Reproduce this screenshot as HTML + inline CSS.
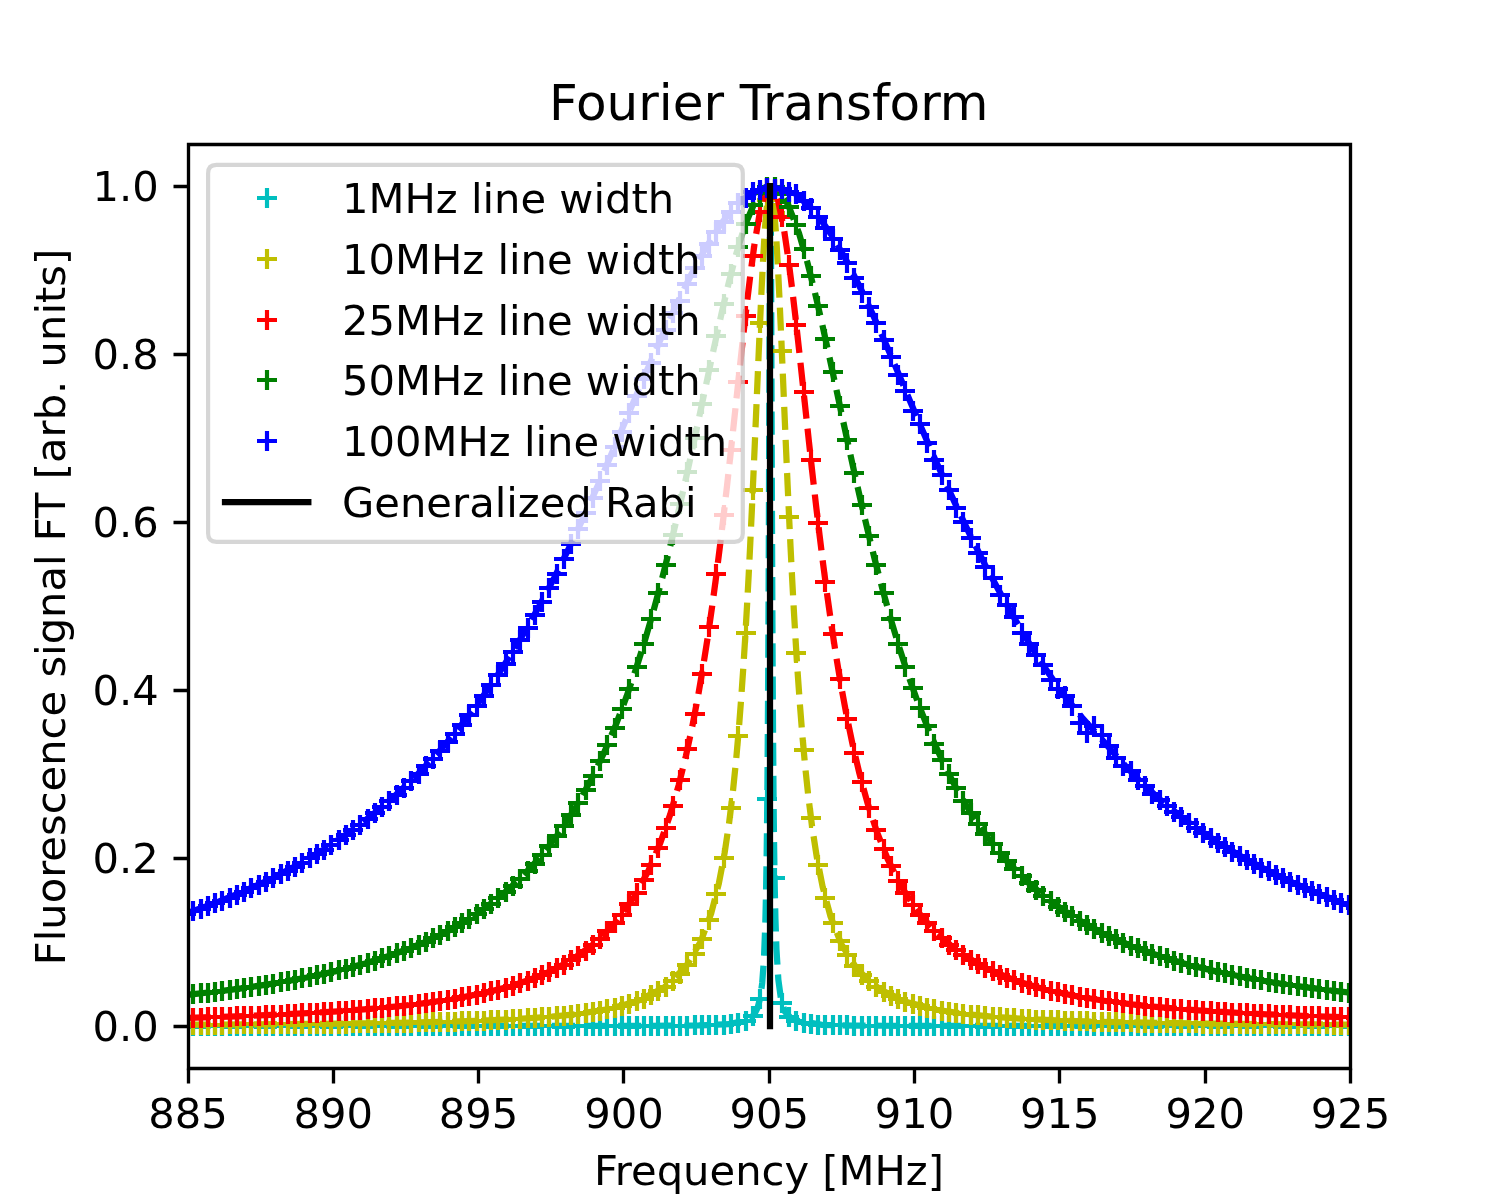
<!DOCTYPE html>
<html><head><meta charset="utf-8"><title>Fourier Transform</title>
<style>html,body{margin:0;padding:0;background:#fff;overflow:hidden}svg{display:block}</style>
</head><body>
<svg width="1500" height="1200" viewBox="0 0 1500 1200">
<defs><clipPath id="ax"><rect x="188" y="144" width="1162" height="924"/></clipPath></defs>
<rect x="0" y="0" width="1500" height="1200" fill="#ffffff"/>
<path d="M188.5 1068.5V1083.5M333.5 1068.5V1083.5M478.5 1068.5V1083.5M623.5 1068.5V1083.5M769.5 1068.5V1083.5M914.5 1068.5V1083.5M1059.5 1068.5V1083.5M1205.5 1068.5V1083.5M1350.5 1068.5V1083.5M173.5 1026.5H188.5M173.5 858.5H188.5M173.5 690.5H188.5M173.5 522.5H188.5M173.5 354.5H188.5M173.5 186.5H188.5" stroke="#000" stroke-width="3.3333" fill="none"/>
<text x="188" y="1127.83" style="font-size:41.6667px;font-family:'DejaVu Sans',sans-serif" text-anchor="middle">885</text>
<text x="333.31" y="1127.83" style="font-size:41.6667px;font-family:'DejaVu Sans',sans-serif" text-anchor="middle">890</text>
<text x="478.62" y="1127.83" style="font-size:41.6667px;font-family:'DejaVu Sans',sans-serif" text-anchor="middle">895</text>
<text x="623.94" y="1127.83" style="font-size:41.6667px;font-family:'DejaVu Sans',sans-serif" text-anchor="middle">900</text>
<text x="769.25" y="1127.83" style="font-size:41.6667px;font-family:'DejaVu Sans',sans-serif" text-anchor="middle">905</text>
<text x="914.56" y="1127.83" style="font-size:41.6667px;font-family:'DejaVu Sans',sans-serif" text-anchor="middle">910</text>
<text x="1059.88" y="1127.83" style="font-size:41.6667px;font-family:'DejaVu Sans',sans-serif" text-anchor="middle">915</text>
<text x="1205.19" y="1127.83" style="font-size:41.6667px;font-family:'DejaVu Sans',sans-serif" text-anchor="middle">920</text>
<text x="1350.5" y="1127.83" style="font-size:41.6667px;font-family:'DejaVu Sans',sans-serif" text-anchor="middle">925</text>
<text x="158.83" y="1040.83" style="font-size:41.6667px;font-family:'DejaVu Sans',sans-serif" text-anchor="end">0.0</text>
<text x="158.83" y="872.83" style="font-size:41.6667px;font-family:'DejaVu Sans',sans-serif" text-anchor="end">0.2</text>
<text x="158.83" y="704.83" style="font-size:41.6667px;font-family:'DejaVu Sans',sans-serif" text-anchor="end">0.4</text>
<text x="158.83" y="536.83" style="font-size:41.6667px;font-family:'DejaVu Sans',sans-serif" text-anchor="end">0.6</text>
<text x="158.83" y="368.83" style="font-size:41.6667px;font-family:'DejaVu Sans',sans-serif" text-anchor="end">0.8</text>
<text x="158.83" y="200.83" style="font-size:41.6667px;font-family:'DejaVu Sans',sans-serif" text-anchor="end">1.0</text>
<g clip-path="url(#ax)">
<path d="M176 1026h20M186 1016v20M183 1026h20M193 1016v20M191 1026h20M201 1016v20M198 1026h20M208 1016v20M205 1026h20M215 1016v20M212 1026h20M222 1016v20M220 1026h20M230 1016v20M227 1026h20M237 1016v20M234 1026h20M244 1016v20M241 1026h20M251 1016v20M249 1026h20M259 1016v20M256 1026h20M266 1016v20M263 1026h20M273 1016v20M271 1026h20M281 1016v20M278 1026h20M288 1016v20M285 1026h20M295 1016v20M292 1026h20M302 1016v20M300 1026h20M310 1016v20M307 1026h20M317 1016v20M314 1026h20M324 1016v20M321 1026h20M331 1016v20M329 1026h20M339 1016v20M336 1026h20M346 1016v20M343 1026h20M353 1016v20M350 1026h20M360 1016v20M358 1026h20M368 1016v20M365 1026h20M375 1016v20M372 1026h20M382 1016v20M379 1026h20M389 1016v20M387 1026h20M397 1016v20M394 1026h20M404 1016v20M401 1026h20M411 1016v20M409 1026h20M419 1016v20M416 1026h20M426 1016v20M423 1026h20M433 1016v20M430 1026h20M440 1016v20M438 1026h20M448 1016v20M445 1026h20M455 1016v20M452 1026h20M462 1016v20M459 1026h20M469 1016v20M467 1026h20M477 1016v20M474 1026h20M484 1016v20M481 1026h20M491 1016v20M488 1026h20M498 1016v20M496 1026h20M506 1016v20M503 1026h20M513 1016v20M510 1026h20M520 1016v20M518 1026h20M528 1016v20M525 1026h20M535 1016v20M532 1026h20M542 1016v20M539 1026h20M549 1016v20M547 1026h20M557 1016v20M554 1026h20M564 1016v20M561 1026h20M571 1016v20M568 1026h20M578 1016v20M576 1026h20M586 1016v20M583 1026h20M593 1016v20M590 1026h20M600 1016v20M597 1026h20M607 1016v20M605 1026h20M615 1016v20M612 1026h20M622 1016v20M619 1026h20M629 1016v20M627 1026h20M637 1016v20M634 1026h20M644 1016v20M641 1026h20M651 1016v20M648 1026h20M658 1016v20M656 1026h20M666 1016v20M663 1026h20M673 1016v20M670 1026h20M680 1016v20M677 1026h20M687 1016v20M685 1025h20M695 1015v20M692 1025h20M702 1015v20M699 1025h20M709 1015v20M706 1025h20M716 1015v20M714 1025h20M724 1015v20M721 1024h20M731 1014v20M728 1023h20M738 1013v20M736 1021h20M746 1011v20M743 1016h20M753 1006v20M750 999h20M760 989v20M757 799h20M767 789v20M765 878h20M775 868v20M772 1003h20M782 993v20M779 1017h20M789 1007v20M786 1021h20M796 1011v20M794 1023h20M804 1013v20M801 1024h20M811 1014v20M808 1025h20M818 1015v20M815 1025h20M825 1015v20M823 1025h20M833 1015v20M830 1025h20M840 1015v20M837 1025h20M847 1015v20M844 1026h20M854 1016v20M852 1026h20M862 1016v20M859 1026h20M869 1016v20M866 1026h20M876 1016v20M874 1026h20M884 1016v20M881 1026h20M891 1016v20M888 1026h20M898 1016v20M895 1026h20M905 1016v20M903 1026h20M913 1016v20M910 1026h20M920 1016v20M917 1026h20M927 1016v20M924 1026h20M934 1016v20M932 1026h20M942 1016v20M939 1026h20M949 1016v20M946 1026h20M956 1016v20M953 1026h20M963 1016v20M961 1026h20M971 1016v20M968 1026h20M978 1016v20M975 1026h20M985 1016v20M983 1026h20M993 1016v20M990 1026h20M1000 1016v20M997 1026h20M1007 1016v20M1004 1026h20M1014 1016v20M1012 1026h20M1022 1016v20M1019 1026h20M1029 1016v20M1026 1026h20M1036 1016v20M1033 1026h20M1043 1016v20M1041 1026h20M1051 1016v20M1048 1026h20M1058 1016v20M1055 1026h20M1065 1016v20M1062 1026h20M1072 1016v20M1070 1026h20M1080 1016v20M1077 1026h20M1087 1016v20M1084 1026h20M1094 1016v20M1092 1026h20M1102 1016v20M1099 1026h20M1109 1016v20M1106 1026h20M1116 1016v20M1113 1026h20M1123 1016v20M1121 1026h20M1131 1016v20M1128 1026h20M1138 1016v20M1135 1026h20M1145 1016v20M1142 1026h20M1152 1016v20M1150 1026h20M1160 1016v20M1157 1026h20M1167 1016v20M1164 1026h20M1174 1016v20M1171 1026h20M1181 1016v20M1179 1026h20M1189 1016v20M1186 1026h20M1196 1016v20M1193 1026h20M1203 1016v20M1201 1026h20M1211 1016v20M1208 1026h20M1218 1016v20M1215 1026h20M1225 1016v20M1222 1026h20M1232 1016v20M1230 1026h20M1240 1016v20M1237 1026h20M1247 1016v20M1244 1026h20M1254 1016v20M1251 1026h20M1261 1016v20M1259 1026h20M1269 1016v20M1266 1026h20M1276 1016v20M1273 1026h20M1283 1016v20M1280 1026h20M1290 1016v20M1288 1026h20M1298 1016v20M1295 1026h20M1305 1016v20M1302 1026h20M1312 1016v20M1309 1026h20M1319 1016v20M1317 1026h20M1327 1016v20M1324 1026h20M1334 1016v20M1331 1026h20M1341 1016v20M1339 1026h20M1349 1016v20M1346 1026h20M1356 1016v20" stroke="#00bfbf" stroke-width="4.1667" fill="none"/>
<path d="M187.50 1025.99L217.58 1025.99L247.66 1025.99L277.74 1025.99L307.82 1025.99L337.90 1025.98L367.98 1025.98L398.06 1025.98L428.14 1025.97L458.22 1025.97L488.30 1025.96L518.38 1025.95L548.46 1025.94L578.54 1025.92L608.62 1025.88L638.70 1025.82L668.77 1025.71L698.85 1025.40L728.93 1024.23L748.70 1019.58L754.22 1014.52L757.56 1007.93L760.18 997.89L762.21 983.06L763.95 958.93L765.26 925.31L765.99 895.25L766.57 861.26L767.01 827.25L767.44 783.10L767.73 746.38L768.02 702.46L768.31 650.13L768.60 588.42L768.75 553.95L768.90 517.18L769.04 478.37L769.19 437.95L769.33 396.60L769.48 355.26L769.62 315.14L769.77 277.73L769.91 244.67L770.20 198.28L770.35 187.75L770.49 186.78L770.78 213.10L771.08 270.67L771.22 307.34L771.37 347.03L771.51 388.23L771.66 429.66L771.80 470.32L771.95 509.50L772.09 546.70L772.24 581.64L772.38 614.19L772.53 644.31L772.82 697.55L773.11 742.26L773.40 779.65L773.69 810.92L774.13 848.63L774.71 886.11L775.43 919.02L776.45 949.10L778.34 979.68L781.10 999.90L784.88 1011.56L792.44 1019.71L822.08 1024.85L852.16 1025.54L882.24 1025.75L912.32 1025.85L942.40 1025.90L972.48 1025.92L1002.56 1025.94L1032.64 1025.95L1062.72 1025.96L1092.80 1025.97L1122.88 1025.97L1152.96 1025.98L1183.04 1025.98L1213.12 1025.98L1243.20 1025.99L1273.28 1025.99L1303.35 1025.99L1333.43 1025.99L1350.00 1025.99" stroke="#00bfbf" stroke-width="6.25" fill="none" stroke-dasharray="23.125 10" stroke-linejoin="round"/>
<path d="M176 1025h20M186 1015v20M183 1025h20M193 1015v20M191 1025h20M201 1015v20M198 1025h20M208 1015v20M205 1025h20M215 1015v20M212 1025h20M222 1015v20M220 1024h20M230 1014v20M227 1024h20M237 1014v20M234 1024h20M244 1014v20M241 1024h20M251 1014v20M249 1024h20M259 1014v20M256 1024h20M266 1014v20M263 1024h20M273 1014v20M271 1024h20M281 1014v20M278 1024h20M288 1014v20M285 1024h20M295 1014v20M292 1024h20M302 1014v20M300 1024h20M310 1014v20M307 1024h20M317 1014v20M314 1024h20M324 1014v20M321 1024h20M331 1014v20M329 1024h20M339 1014v20M336 1024h20M346 1014v20M343 1023h20M353 1013v20M350 1023h20M360 1013v20M358 1023h20M368 1013v20M365 1023h20M375 1013v20M372 1023h20M382 1013v20M379 1023h20M389 1013v20M387 1023h20M397 1013v20M394 1023h20M404 1013v20M401 1023h20M411 1013v20M409 1022h20M419 1012v20M416 1022h20M426 1012v20M423 1022h20M433 1012v20M430 1022h20M440 1012v20M438 1022h20M448 1012v20M445 1022h20M455 1012v20M452 1021h20M462 1011v20M459 1021h20M469 1011v20M467 1021h20M477 1011v20M474 1021h20M484 1011v20M481 1020h20M491 1010v20M488 1020h20M498 1010v20M496 1020h20M506 1010v20M503 1019h20M513 1009v20M510 1019h20M520 1009v20M518 1018h20M528 1008v20M525 1018h20M535 1008v20M532 1017h20M542 1007v20M539 1017h20M549 1007v20M547 1016h20M557 1006v20M554 1016h20M564 1006v20M561 1015h20M571 1005v20M568 1014h20M578 1004v20M576 1013h20M586 1003v20M583 1012h20M593 1002v20M590 1011h20M600 1001v20M597 1009h20M607 999v20M605 1008h20M615 998v20M612 1006h20M622 996v20M619 1004h20M629 994v20M627 1001h20M637 991v20M634 999h20M644 989v20M641 995h20M651 985v20M648 991h20M658 981v20M656 987h20M666 977v20M663 981h20M673 971v20M670 974h20M680 964v20M677 965h20M687 955v20M685 954h20M695 944v20M692 939h20M702 929v20M699 920h20M709 910v20M706 894h20M716 884v20M714 858h20M724 848v20M721 808h20M731 798v20M728 736h20M738 726v20M736 633h20M746 623v20M743 490h20M753 480v20M750 323h20M760 313v20M757 200h20M767 190v20M765 213h20M775 203v20M772 351h20M782 341v20M779 517h20M789 507v20M786 653h20M796 643v20M794 750h20M804 740v20M801 818h20M811 808v20M808 865h20M818 855v20M815 898h20M825 888v20M823 923h20M833 913v20M830 941h20M840 931v20M837 955h20M847 945v20M844 966h20M854 956v20M852 975h20M862 965v20M859 981h20M869 971v20M866 987h20M876 977v20M874 992h20M884 982v20M881 996h20M891 986v20M888 999h20M898 989v20M895 1002h20M905 992v20M903 1004h20M913 994v20M910 1006h20M920 996v20M917 1008h20M927 998v20M924 1009h20M934 999v20M932 1011h20M942 1001v20M939 1012h20M949 1002v20M946 1013h20M956 1003v20M953 1014h20M963 1004v20M961 1015h20M971 1005v20M968 1015h20M978 1005v20M975 1016h20M985 1006v20M983 1017h20M993 1007v20M990 1017h20M1000 1007v20M997 1018h20M1007 1008v20M1004 1018h20M1014 1008v20M1012 1019h20M1022 1009v20M1019 1019h20M1029 1009v20M1026 1020h20M1036 1010v20M1033 1020h20M1043 1010v20M1041 1020h20M1051 1010v20M1048 1020h20M1058 1010v20M1055 1021h20M1065 1011v20M1062 1021h20M1072 1011v20M1070 1021h20M1080 1011v20M1077 1021h20M1087 1011v20M1084 1022h20M1094 1012v20M1092 1022h20M1102 1012v20M1099 1022h20M1109 1012v20M1106 1022h20M1116 1012v20M1113 1022h20M1123 1012v20M1121 1022h20M1131 1012v20M1128 1023h20M1138 1013v20M1135 1023h20M1145 1013v20M1142 1023h20M1152 1013v20M1150 1023h20M1160 1013v20M1157 1023h20M1167 1013v20M1164 1023h20M1174 1013v20M1171 1023h20M1181 1013v20M1179 1023h20M1189 1013v20M1186 1023h20M1196 1013v20M1193 1024h20M1203 1014v20M1201 1024h20M1211 1014v20M1208 1024h20M1218 1014v20M1215 1024h20M1225 1014v20M1222 1024h20M1232 1014v20M1230 1024h20M1240 1014v20M1237 1024h20M1247 1014v20M1244 1024h20M1254 1014v20M1251 1024h20M1261 1014v20M1259 1024h20M1269 1014v20M1266 1024h20M1276 1014v20M1273 1024h20M1283 1014v20M1280 1024h20M1290 1014v20M1288 1024h20M1298 1014v20M1295 1024h20M1305 1014v20M1302 1024h20M1312 1014v20M1309 1024h20M1319 1014v20M1317 1024h20M1327 1014v20M1324 1025h20M1334 1015v20M1331 1025h20M1341 1015v20M1339 1025h20M1349 1015v20M1346 1025h20M1356 1015v20" stroke="#bfbf00" stroke-width="4.1667" fill="none"/>
<path d="M187.50 1024.70L217.58 1024.55L247.66 1024.38L277.74 1024.17L307.82 1023.92L337.90 1023.62L367.98 1023.25L398.06 1022.78L428.14 1022.19L458.22 1021.42L488.30 1020.38L518.38 1018.97L548.31 1016.95L578.25 1013.93L607.89 1009.20L636.95 1001.28L663.83 987.82L685.63 967.12L700.89 941.24L711.35 912.84L718.91 883.15L724.58 853.24L729.08 823.01L732.86 791.94L736.05 760.63L738.82 729.19L741.14 699.10L743.32 667.58L745.21 637.46L746.95 607.26L748.70 574.70L750.30 542.83L751.75 512.26L753.20 480.36L754.65 447.35L755.96 416.99L757.27 386.36L758.58 355.89L760.03 322.81L761.48 291.35L763.08 259.66L764.97 227.82L767.59 197.27L769.04 188.46L769.77 186.44L770.20 186.02L770.49 186.06L770.93 186.61L771.80 189.46L773.69 203.39L776.02 233.64L777.76 264.04L779.36 296.22L780.81 327.97L782.26 361.18L783.57 391.68L784.88 422.25L786.19 452.48L787.64 485.29L789.09 516.95L790.55 547.24L792.15 578.79L793.89 611.00L795.78 643.24L797.81 674.96L799.99 705.65L802.46 736.66L805.22 767.03L808.42 797.29L812.20 827.34L816.85 857.46L822.66 886.92L830.51 916.35L841.41 944.33L857.54 969.87L880.20 989.70L907.52 1002.32L936.73 1009.73L966.52 1014.22L996.45 1017.09L1026.53 1019.03L1056.61 1020.40L1086.69 1021.40L1116.77 1022.16L1146.85 1022.74L1176.93 1023.20L1207.01 1023.57L1237.09 1023.87L1267.17 1024.11L1297.25 1024.32L1327.33 1024.49L1350.00 1024.61" stroke="#bfbf00" stroke-width="6.25" fill="none" stroke-dasharray="23.125 10" stroke-linejoin="round"/>
<path d="M176 1018h20M186 1008v20M183 1018h20M193 1008v20M191 1018h20M201 1008v20M198 1017h20M208 1007v20M205 1017h20M215 1007v20M212 1017h20M222 1007v20M220 1017h20M230 1007v20M227 1016h20M237 1006v20M234 1016h20M244 1006v20M241 1016h20M251 1006v20M249 1016h20M259 1006v20M256 1015h20M266 1005v20M263 1015h20M273 1005v20M271 1015h20M281 1005v20M278 1014h20M288 1004v20M285 1014h20M295 1004v20M292 1013h20M302 1003v20M300 1013h20M310 1003v20M307 1013h20M317 1003v20M314 1012h20M324 1002v20M321 1012h20M331 1002v20M329 1011h20M339 1001v20M336 1011h20M346 1001v20M343 1010h20M353 1000v20M350 1010h20M360 1000v20M358 1009h20M368 999v20M365 1008h20M375 998v20M372 1008h20M382 998v20M379 1007h20M389 997v20M387 1006h20M397 996v20M394 1006h20M404 996v20M401 1005h20M411 995v20M409 1004h20M419 994v20M416 1003h20M426 993v20M423 1002h20M433 992v20M430 1001h20M440 991v20M438 1000h20M448 990v20M445 999h20M455 989v20M452 997h20M462 987v20M459 996h20M469 986v20M467 995h20M477 985v20M474 993h20M484 983v20M481 991h20M491 981v20M488 990h20M498 980v20M496 988h20M506 978v20M503 986h20M513 976v20M510 983h20M520 973v20M518 981h20M528 971v20M525 978h20M535 968v20M532 975h20M542 965v20M539 972h20M549 962v20M547 968h20M557 958v20M554 965h20M564 955v20M561 960h20M571 950v20M568 956h20M578 946v20M576 951h20M586 941v20M583 945h20M593 935v20M590 939h20M600 929v20M597 931h20M607 921v20M605 923h20M615 913v20M612 915h20M622 905v20M619 904h20M629 894v20M627 893h20M637 883v20M634 880h20M644 870v20M641 865h20M651 855v20M648 848h20M658 838v20M656 828h20M666 818v20M663 806h20M673 796v20M670 780h20M680 770v20M677 749h20M687 739v20M685 714h20M695 704v20M692 674h20M702 664v20M699 627h20M709 617v20M706 574h20M716 564v20M714 515h20M724 505v20M721 450h20M731 440v20M728 382h20M738 372v20M736 316h20M746 306v20M743 256h20M753 246v20M750 212h20M760 202v20M757 188h20M767 178v20M765 190h20M775 180v20M772 217h20M782 207v20M779 265h20M789 255v20M786 325h20M796 315v20M794 392h20M804 382v20M801 460h20M811 450v20M808 523h20M818 513v20M815 582h20M825 572v20M823 634h20M833 624v20M830 679h20M840 669v20M837 719h20M847 709v20M844 753h20M854 743v20M852 782h20M862 772v20M859 808h20M869 798v20M866 830h20M876 820v20M874 849h20M884 839v20M881 866h20M891 856v20M888 881h20M898 871v20M895 893h20M905 883v20M903 905h20M913 895v20M910 915h20M920 905v20M917 923h20M927 913v20M924 931h20M934 921v20M932 938h20M942 928v20M939 945h20M949 935v20M946 950h20M956 940v20M953 955h20M963 945v20M961 960h20M971 950v20M968 964h20M978 954v20M975 968h20M985 958v20M983 971h20M993 961v20M990 975h20M1000 965v20M997 978h20M1007 968v20M1004 980h20M1014 970v20M1012 983h20M1022 973v20M1019 985h20M1029 975v20M1026 987h20M1036 977v20M1033 989h20M1043 979v20M1041 991h20M1051 981v20M1048 992h20M1058 982v20M1055 994h20M1065 984v20M1062 995h20M1072 985v20M1070 997h20M1080 987v20M1077 998h20M1087 988v20M1084 999h20M1094 989v20M1092 1000h20M1102 990v20M1099 1001h20M1109 991v20M1106 1002h20M1116 992v20M1113 1003h20M1123 993v20M1121 1004h20M1131 994v20M1128 1005h20M1138 995v20M1135 1006h20M1145 996v20M1142 1007h20M1152 997v20M1150 1007h20M1160 997v20M1157 1008h20M1167 998v20M1164 1009h20M1174 999v20M1171 1009h20M1181 999v20M1179 1010h20M1189 1000v20M1186 1010h20M1196 1000v20M1193 1011h20M1203 1001v20M1201 1011h20M1211 1001v20M1208 1012h20M1218 1002v20M1215 1012h20M1225 1002v20M1222 1013h20M1232 1003v20M1230 1013h20M1240 1003v20M1237 1013h20M1247 1003v20M1244 1014h20M1254 1004v20M1251 1014h20M1261 1004v20M1259 1014h20M1269 1004v20M1266 1015h20M1276 1005v20M1273 1015h20M1283 1005v20M1280 1015h20M1290 1005v20M1288 1016h20M1298 1006v20M1295 1016h20M1305 1006v20M1302 1016h20M1312 1006v20M1309 1016h20M1319 1006v20M1317 1017h20M1327 1007v20M1324 1017h20M1334 1007v20M1331 1017h20M1341 1007v20M1339 1017h20M1349 1007v20M1346 1018h20M1356 1008v20" stroke="#ff0000" stroke-width="4.1667" fill="none"/>
<path d="M187.50 1017.92L217.58 1017.02L247.66 1015.95L277.74 1014.69L307.82 1013.17L337.90 1011.34L367.83 1009.10L397.77 1006.31L427.70 1002.78L457.49 998.26L486.99 992.39L516.05 984.61L544.24 974.25L570.98 960.52L595.39 942.82L616.46 921.42L634.05 897.01L648.43 870.65L660.35 842.83L670.23 814.38L678.66 785.28L685.92 755.90L692.32 726.22L697.98 696.52L703.07 666.88L707.72 637.14L712.08 606.86L716.15 576.48L719.93 546.46L723.56 516.05L727.05 485.56L730.39 455.34L733.73 424.42L736.93 394.48L740.12 364.58L743.47 333.84L746.95 302.97L750.59 272.95L754.65 243.03L759.74 213.08L765.55 191.71L768.31 187.05L770.06 186.02L771.51 186.32L773.69 188.72L778.05 200.34L784.15 230.49L788.51 260.19L792.29 290.07L795.78 320.10L799.12 350.32L802.46 381.32L805.66 411.20L809.00 442.22L812.34 472.65L815.83 503.48L819.46 534.33L823.24 564.86L827.17 594.76L831.38 624.76L835.88 654.43L840.83 684.21L846.35 714.27L852.45 743.86L859.43 773.51L867.42 802.73L876.72 831.35L887.76 859.26L901.13 886.15L917.55 911.53L937.31 934.16L960.56 953.35L986.57 968.59L1014.33 980.18L1043.10 988.89L1072.45 995.46L1102.10 1000.48L1131.89 1004.38L1161.82 1007.47L1191.75 1009.93L1221.69 1011.94L1251.77 1013.60L1281.85 1014.98L1311.93 1016.15L1342.01 1017.13L1350.00 1017.37" stroke="#ff0000" stroke-width="6.25" fill="none" stroke-dasharray="23.125 10" stroke-linejoin="round"/>
<path d="M176 995h20M186 985v20M183 994h20M193 984v20M191 993h20M201 983v20M198 993h20M208 983v20M205 992h20M215 982v20M212 991h20M222 981v20M220 990h20M230 980v20M227 989h20M237 979v20M234 988h20M244 978v20M241 987h20M251 977v20M249 986h20M259 976v20M256 985h20M266 975v20M263 984h20M273 974v20M271 982h20M281 972v20M278 981h20M288 971v20M285 980h20M295 970v20M292 978h20M302 968v20M300 977h20M310 967v20M307 975h20M317 965v20M314 974h20M324 964v20M321 972h20M331 962v20M329 970h20M339 960v20M336 969h20M346 959v20M343 967h20M353 957v20M350 965h20M360 955v20M358 963h20M368 953v20M365 961h20M375 951v20M372 958h20M382 948v20M379 956h20M389 946v20M387 953h20M397 943v20M394 951h20M404 941v20M401 948h20M411 938v20M409 945h20M419 935v20M416 942h20M426 932v20M423 938h20M433 928v20M430 935h20M440 925v20M438 931h20M448 921v20M445 927h20M455 917v20M452 923h20M462 913v20M459 919h20M469 909v20M467 914h20M477 904v20M474 909h20M484 899v20M481 904h20M491 894v20M488 898h20M498 888v20M496 892h20M506 882v20M503 886h20M513 876v20M510 879h20M520 869v20M518 871h20M528 861v20M525 864h20M535 854v20M532 855h20M542 845v20M539 846h20M549 836v20M547 836h20M557 826v20M554 826h20M564 816v20M561 815h20M571 805v20M568 803h20M578 793v20M576 790h20M586 780v20M583 776h20M593 766v20M590 761h20M600 751v20M597 745h20M607 735v20M605 728h20M615 718v20M612 709h20M622 699v20M619 689h20M629 679v20M627 667h20M637 657v20M634 644h20M644 634v20M641 619h20M651 609v20M648 593h20M658 583v20M656 565h20M666 555v20M663 535h20M673 525v20M670 504h20M680 494v20M677 472h20M687 462v20M685 438h20M695 428v20M692 404h20M702 394v20M699 370h20M709 360v20M706 336h20M716 326v20M714 304h20M724 294v20M721 274h20M731 264v20M728 247h20M738 237v20M736 224h20M746 214v20M743 205h20M753 195v20M750 193h20M760 183v20M757 187h20M767 177v20M765 187h20M775 177v20M772 194h20M782 184v20M779 207h20M789 197v20M786 225h20M796 215v20M794 249h20M804 239v20M801 276h20M811 266v20M808 306h20M818 296v20M815 339h20M825 329v20M823 372h20M833 362v20M830 406h20M840 396v20M837 440h20M847 430v20M844 473h20M854 463v20M852 505h20M862 495v20M859 536h20M869 526v20M866 565h20M876 555v20M874 593h20M884 583v20M881 619h20M891 609v20M888 644h20M898 634v20M895 667h20M905 657v20M903 688h20M913 678v20M910 708h20M920 698v20M917 726h20M927 716v20M924 744h20M934 734v20M932 760h20M942 750v20M939 774h20M949 764v20M946 788h20M956 778v20M953 801h20M963 791v20M961 813h20M971 803v20M968 824h20M978 814v20M975 834h20M985 824v20M983 844h20M993 834v20M990 853h20M1000 843v20M997 861h20M1007 851v20M1004 869h20M1014 859v20M1012 876h20M1022 866v20M1019 883h20M1029 873v20M1026 890h20M1036 880v20M1033 896h20M1043 886v20M1041 901h20M1051 891v20M1048 907h20M1058 897v20M1055 912h20M1065 902v20M1062 916h20M1072 906v20M1070 921h20M1080 911v20M1077 925h20M1087 915v20M1084 929h20M1094 919v20M1092 933h20M1102 923v20M1099 936h20M1109 926v20M1106 939h20M1116 929v20M1113 943h20M1123 933v20M1121 946h20M1131 936v20M1128 948h20M1138 938v20M1135 951h20M1145 941v20M1142 954h20M1152 944v20M1150 956h20M1160 946v20M1157 958h20M1167 948v20M1164 961h20M1174 951v20M1171 963h20M1181 953v20M1179 965h20M1189 955v20M1186 967h20M1196 957v20M1193 968h20M1203 958v20M1201 970h20M1211 960v20M1208 972h20M1218 962v20M1215 973h20M1225 963v20M1222 975h20M1232 965v20M1230 976h20M1240 966v20M1237 978h20M1247 968v20M1244 979h20M1254 969v20M1251 980h20M1261 970v20M1259 982h20M1269 972v20M1266 983h20M1276 973v20M1273 984h20M1283 974v20M1280 985h20M1290 975v20M1288 986h20M1298 976v20M1295 987h20M1305 977v20M1302 988h20M1312 978v20M1309 989h20M1319 979v20M1317 990h20M1327 980v20M1324 991h20M1334 981v20M1331 992h20M1341 982v20M1339 993h20M1349 983v20M1346 993h20M1356 983v20" stroke="#008000" stroke-width="4.1667" fill="none"/>
<path d="M187.50 994.82L217.43 991.45L247.22 987.54L277.01 982.94L306.66 977.52L336.01 971.12L365.07 963.49L393.70 954.38L421.74 943.48L448.92 930.49L474.78 915.23L499.05 897.58L521.43 877.60L541.77 855.49L560.08 831.57L576.36 806.37L590.89 780.11L603.97 752.91L615.74 725.14L626.49 696.72L636.23 668.24L645.23 639.39L653.66 610.15L661.51 580.93L668.92 551.59L676.04 521.87L682.87 492.09L689.41 462.57L695.80 432.99L702.20 402.96L708.45 373.54L714.84 343.79L721.38 314.24L728.21 285.00L735.76 255.50L744.48 226.53L756.25 198.65L765.26 187.77L771.08 186.01L777.32 188.79L788.22 204.86L798.97 233.21L807.40 262.49L814.81 292.09L821.64 321.66L828.18 351.34L834.58 381.05L840.97 410.98L847.36 440.71L853.90 470.57L860.59 500.24L867.56 530.05L874.83 559.67L882.38 588.82L890.52 618.24L899.10 647.03L908.40 675.77L918.57 704.38L929.61 732.33L941.82 759.82L955.48 786.81L970.73 812.88L987.74 837.64L1006.77 860.94L1027.84 882.33L1050.95 901.56L1075.80 918.40L1102.10 932.88L1129.56 945.17L1157.75 955.48L1186.52 964.13L1215.73 971.40L1245.23 977.54L1274.87 982.73L1304.66 987.15L1334.45 990.93L1350.00 992.69" stroke="#008000" stroke-width="6.25" fill="none" stroke-dasharray="23.125 10" stroke-linejoin="round"/>
<path d="M176 914h20M186 904v20M183 911h20M193 901v20M191 909h20M201 899v20M198 906h20M208 896v20M205 903h20M215 893v20M212 901h20M222 891v20M220 898h20M230 888v20M227 895h20M237 885v20M234 892h20M244 882v20M241 888h20M251 878v20M249 885h20M259 875v20M256 882h20M266 872v20M263 878h20M273 868v20M271 874h20M281 864v20M278 871h20M288 861v20M285 867h20M295 857v20M292 863h20M302 853v20M300 858h20M310 848v20M307 854h20M317 844v20M314 850h20M324 840v20M321 845h20M331 835v20M329 840h20M339 830v20M336 835h20M346 825v20M343 830h20M353 820v20M350 825h20M360 815v20M358 819h20M368 809v20M365 813h20M375 803v20M372 807h20M382 797v20M379 801h20M389 791v20M387 795h20M397 785v20M394 788h20M404 778v20M401 781h20M411 771v20M409 774h20M419 764v20M416 766h20M426 756v20M423 759h20M433 749v20M430 751h20M440 741v20M438 742h20M448 732v20M445 734h20M455 724v20M452 725h20M462 715v20M459 715h20M469 705v20M467 706h20M477 696v20M474 696h20M484 686v20M481 685h20M491 675v20M488 675h20M498 665v20M496 664h20M506 654v20M503 652h20M513 642v20M510 640h20M520 630v20M518 628h20M528 618v20M525 615h20M535 605v20M532 602h20M542 592v20M539 588h20M549 578v20M547 574h20M557 564v20M554 559h20M564 549v20M561 544h20M571 534v20M568 529h20M578 519v20M576 513h20M586 503v20M583 498h20M593 488v20M590 481h20M600 471v20M597 465h20M607 455v20M605 447h20M615 437v20M612 432h20M622 422v20M619 413h20M629 403v20M627 396h20M637 386v20M634 379h20M644 369v20M641 363h20M651 353v20M648 345h20M658 335v20M656 330h20M666 320v20M663 313h20M673 303v20M670 301h20M680 291v20M677 284h20M687 274v20M685 268h20M695 258v20M692 256h20M702 246v20M699 244h20M709 234v20M706 232h20M716 222v20M714 222h20M724 212v20M721 212h20M731 202v20M728 203h20M738 193v20M736 198h20M746 188v20M743 192h20M753 182v20M750 190h20M760 180v20M757 188h20M767 178v20M765 189h20M775 179v20M772 189h20M782 179v20M779 192h20M789 182v20M786 194h20M796 184v20M794 201h20M804 191v20M801 208h20M811 198v20M808 217h20M818 207v20M815 228h20M825 218v20M823 239h20M833 229v20M830 250h20M840 240v20M837 263h20M847 253v20M844 278h20M854 268v20M852 293h20M862 283v20M859 307h20M869 297v20M866 323h20M876 313v20M874 340h20M884 330v20M881 357h20M891 347v20M888 375h20M898 365v20M895 391h20M905 381v20M903 411h20M913 401v20M910 424h20M920 414v20M917 443h20M927 433v20M924 460h20M934 450v20M932 475h20M942 465v20M939 490h20M949 480v20M946 508h20M956 498v20M953 522h20M963 512v20M961 538h20M971 528v20M968 553h20M978 543v20M975 567h20M985 557v20M983 578h20M993 568v20M990 595h20M1000 585v20M997 605h20M1007 595v20M1004 617h20M1014 607v20M1012 633h20M1022 623v20M1019 644h20M1029 634v20M1026 655h20M1036 645v20M1033 665h20M1043 655v20M1041 680h20M1051 670v20M1048 689h20M1058 679v20M1055 696h20M1065 686v20M1062 706h20M1072 696v20M1070 723h20M1080 713v20M1077 733h20M1087 723v20M1084 726h20M1094 716v20M1092 735h20M1102 725v20M1099 746h20M1109 736v20M1106 758h20M1116 748v20M1113 766h20M1123 756v20M1121 771h20M1131 761v20M1128 780h20M1138 770v20M1135 786h20M1145 776v20M1142 794h20M1152 784v20M1150 800h20M1160 790v20M1157 806h20M1167 796v20M1164 812h20M1174 802v20M1171 817h20M1181 807v20M1179 823h20M1189 813v20M1186 828h20M1196 818v20M1193 833h20M1203 823v20M1201 838h20M1211 828v20M1208 843h20M1218 833v20M1215 847h20M1225 837v20M1222 852h20M1232 842v20M1230 856h20M1240 846v20M1237 860h20M1247 850v20M1244 864h20M1254 854v20M1251 868h20M1261 858v20M1259 871h20M1269 861v20M1266 875h20M1276 865v20M1273 878h20M1283 868v20M1280 882h20M1290 872v20M1288 885h20M1298 875v20M1295 888h20M1305 878v20M1302 891h20M1312 881v20M1309 894h20M1319 884v20M1317 897h20M1327 887v20M1324 900h20M1334 890v20M1331 903h20M1341 893v20M1339 905h20M1349 895v20M1346 908h20M1356 898v20" stroke="#0000ff" stroke-width="4.1667" fill="none"/>
<path d="M187.50 913.04L215.84 902.81L243.74 891.43L271.05 878.82L297.65 864.92L323.51 849.62L348.51 832.91L372.48 814.83L395.44 795.36L417.24 774.67L437.87 752.86L457.49 729.88L475.95 706.09L493.38 681.51L509.80 656.38L525.35 630.71L540.17 604.44L554.27 577.68L567.64 550.78L580.57 523.56L593.07 496.20L605.27 468.46L617.19 440.60L628.96 412.70L640.73 384.95L652.65 357.30L664.85 329.72L677.49 302.39L690.86 275.33L705.25 248.76L721.38 223.18L740.85 200.31L767.15 186.19L792.44 191.36L814.96 211.38L832.25 235.95L847.22 262.06L860.88 288.97L873.67 316.40L885.87 344.08L897.79 372.00L909.56 399.94L921.33 427.69L933.39 455.44L945.74 483.03L958.38 510.49L971.32 537.59L984.98 564.65L999.22 591.19L1013.89 617.41L1029.30 643.47L1045.57 668.88L1062.72 693.55L1081.61 717.08L1101.81 739.42L1121.71 762.02L1142.49 783.66L1164.87 803.83L1188.56 822.37L1213.26 839.43L1238.98 855.18L1265.43 869.52L1292.60 882.55L1320.36 894.34L1348.55 904.95L1350.00 905.46" stroke="#0000ff" stroke-width="6.25" fill="none" stroke-dasharray="23.125 10" stroke-linejoin="round"/>
<path d="M770 182.875V1029.125" stroke="#000" stroke-width="6.25" fill="none"/>
</g>
<path d="M188.5 1068.5V144.5M1350.5 1068.5V144.5M188.5 1068.5H1350.5M188.5 144.5H1350.5" stroke="#000" stroke-width="3.3333" stroke-linecap="square" fill="none"/>
<text x="768.75" y="119.9" style="font-size:50px;font-family:'DejaVu Sans',sans-serif" text-anchor="middle">Fourier Transform</text>
<text x="768.95" y="1184.62" style="font-size:41.6667px;font-family:'DejaVu Sans',sans-serif" text-anchor="middle">Frequency [MHz]</text>
<text x="64.74" y="607" transform="rotate(-90 64.74 607)" style="font-size:41.6667px;font-family:'DejaVu Sans',sans-serif" text-anchor="middle">Fluorescence signal FT [arb. units]</text>
<path d="M216.43 164.85 H734.47 Q742.8 164.85 742.8 173.18 V533.47 Q742.8 541.8 734.47 541.8 H216.43 Q208.1 541.8 208.1 533.47 V173.18 Q208.1 164.85 216.43 164.85 Z" fill="#ffffff" stroke="#cccccc" stroke-width="4.1667" opacity="0.8" stroke-linejoin="miter"/>
<path d="M257 198h20M267 188v20" stroke="#00bfbf" stroke-width="4.1667" fill="none"/>
<path d="M257 259h20M267 249v20" stroke="#bfbf00" stroke-width="4.1667" fill="none"/>
<path d="M257 320h20M267 310v20" stroke="#ff0000" stroke-width="4.1667" fill="none"/>
<path d="M257 380h20M267 370v20" stroke="#008000" stroke-width="4.1667" fill="none"/>
<path d="M257 441h20M267 431v20" stroke="#0000ff" stroke-width="4.1667" fill="none"/>
<text x="342.07" y="213.16" style="font-size:41.6667px;font-family:'DejaVu Sans',sans-serif">1MHz line width</text>
<text x="342.07" y="273.91" style="font-size:41.6667px;font-family:'DejaVu Sans',sans-serif">10MHz line width</text>
<text x="342.07" y="334.66" style="font-size:41.6667px;font-family:'DejaVu Sans',sans-serif">25MHz line width</text>
<text x="342.07" y="395.41" style="font-size:41.6667px;font-family:'DejaVu Sans',sans-serif">50MHz line width</text>
<text x="342.07" y="456.16" style="font-size:41.6667px;font-family:'DejaVu Sans',sans-serif">100MHz line width</text>
<text x="342.07" y="516.91" style="font-size:41.6667px;font-family:'DejaVu Sans',sans-serif">Generalized Rabi</text>
<path d="M225 502H308.33" stroke="#000" stroke-width="6.25" stroke-linecap="square" fill="none"/>
</svg>
</body></html>
